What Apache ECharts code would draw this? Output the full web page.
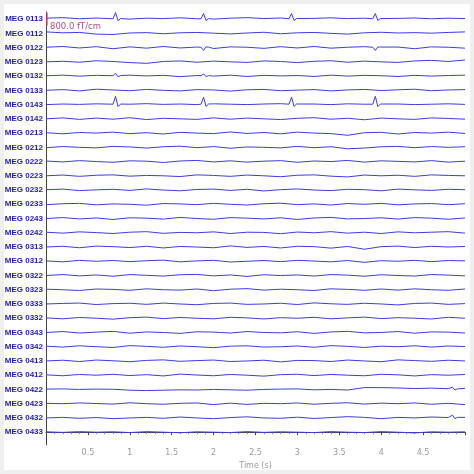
<!DOCTYPE html>
<html>
<head>
<meta charset="utf-8">
<script src="https://cdn.jsdelivr.net/npm/echarts@6/dist/echarts.min.js"></script>
<style>
  body { margin: 0; background: #efefef; }
  #chart { position: absolute; left: 4px; top: 4px; width: 466px; height: 466px; background: #fff; }
</style>
</head>
<body>
<div id="chart"></div>
<script>
const channels = ['MEG 0113', 'MEG 0112', 'MEG 0122', 'MEG 0123', 'MEG 0132', 'MEG 0133', 'MEG 0143', 'MEG 0142',
    'MEG 0213', 'MEG 0212', 'MEG 0222', 'MEG 0223', 'MEG 0232', 'MEG 0233', 'MEG 0243', 'MEG 0242',
    'MEG 0313', 'MEG 0312', 'MEG 0322', 'MEG 0323', 'MEG 0333', 'MEG 0332', 'MEG 0343', 'MEG 0342',
    'MEG 0413', 'MEG 0412', 'MEG 0422', 'MEG 0423', 'MEG 0432', 'MEG 0433'];

// sample times, seconds
const times = [0, 0.2, 0.4, 0.6, 0.8, 1.0, 1.2, 1.4, 1.6, 1.8, 2.0, 2.2, 2.4, 2.6, 2.8, 3.0, 3.2, 3.4, 3.6, 3.8, 4.0, 4.2, 4.4, 4.6, 4.8, 5.0];

// per channel signal, in channel-spacing units
const signals = [
    [0.05, 0.08, 0.02, 0.06, 0.04, 0.0, 0.05, 0.03, 0.07, 0.02, 0.0, 0.05, 0.08, 0.03, 0.06, 0.02, 0.04, 0.07, 0.03, 0.05, 0.0, 0.04, 0.06, 0.02, 0.05, 0.03],
    [0.08, 0.03, 0.05, -0.04, -0.06, 0.02, 0.04, -0.02, 0.03, 0.05, 0.01, -0.03, 0.02, 0.06, -0.02, 0.03, 0.05, 0.0, -0.04, 0.03, 0.06, 0.02, 0.04, 0.01, 0.05, 0.08],
    [0.02, 0.06, -0.02, 0.05, -0.06, 0.04, -0.03, 0.06, -0.02, 0.03, -0.05, 0.04, 0.02, -0.04, 0.05, -0.02, 0.06, -0.03, 0.02, 0.05, -0.04, 0.03, -0.06, 0.04, 0.02, -0.03],
    [0.0, 0.03, -0.02, 0.06, 0.02, -0.04, -0.08, 0.02, 0.05, -0.02, 0.04, 0.0, -0.03, 0.05, 0.02, -0.04, 0.03, 0.06, -0.02, 0.04, 0.0, -0.03, 0.05, 0.08, 0.02, 0.1],
    [0.02, 0.05, 0.0, 0.04, -0.02, 0.05, 0.01, 0.04, -0.03, 0.03, 0.0, 0.05, -0.02, 0.04, 0.01, 0.03, -0.02, 0.05, 0.0, 0.04, 0.02, -0.02, 0.04, 0.0, 0.03, 0.05],
    [0.0, 0.04, -0.03, 0.06, 0.02, -0.02, 0.05, 0.0, -0.03, 0.04, 0.02, -0.04, 0.03, 0.05, -0.02, 0.01, 0.04, -0.03, 0.02, 0.05, -0.01, 0.03, 0.06, -0.02, 0.02, 0.04],
    [0.0, 0.03, 0.01, 0.04, 0.0, 0.02, 0.05, 0.01, 0.03, 0.0, 0.04, 0.02, 0.0, 0.03, 0.05, 0.01, 0.03, 0.0, 0.04, 0.02, 0.01, 0.03, 0.0, 0.02, 0.04, 0.01],
    [0.0, 0.05, -0.03, 0.04, -0.02, 0.06, -0.04, 0.03, 0.0, -0.03, 0.05, -0.02, 0.04, 0.0, -0.04, 0.03, 0.06, -0.02, 0.03, -0.05, 0.04, 0.0, -0.03, 0.05, 0.02, -0.02],
    [0.02, -0.04, 0.03, 0.0, 0.05, -0.03, 0.02, -0.05, 0.04, 0.0, -0.03, 0.06, -0.02, 0.03, -0.04, 0.05, 0.0, -0.03, -0.12, 0.02, 0.04, -0.05, 0.03, 0.0, 0.05, -0.02],
    [-0.02, 0.04, 0.0, -0.03, 0.05, 0.02, -0.04, 0.03, 0.06, -0.02, 0.04, -0.05, 0.02, 0.0, -0.03, 0.05, -0.02, 0.03, -0.08, -0.04, 0.03, 0.05, -0.02, 0.04, 0.0, 0.03],
    [0.03, -0.02, 0.05, 0.0, -0.04, 0.04, 0.02, -0.05, 0.03, 0.06, -0.02, 0.04, -0.03, 0.02, 0.05, -0.04, 0.03, 0.0, 0.06, -0.03, 0.04, 0.01, -0.02, 0.05, -0.03, 0.02],
    [0.0, 0.04, -0.03, 0.03, 0.05, -0.02, 0.02, 0.0, -0.04, 0.05, 0.02, -0.03, 0.04, 0.0, -0.05, 0.03, 0.05, -0.02, -0.06, 0.04, 0.0, 0.03, -0.03, 0.05, 0.02, 0.0],
    [0.02, 0.05, -0.03, 0.01, 0.04, -0.02, 0.06, 0.0, -0.04, 0.03, 0.05, -0.02, 0.04, -0.05, 0.02, 0.06, 0.0, -0.03, 0.04, 0.02, -0.04, 0.05, 0.01, -0.02, 0.04, 0.02],
    [-0.02, 0.03, 0.05, -0.03, 0.02, 0.0, -0.05, 0.04, 0.02, -0.02, 0.05, 0.0, -0.04, 0.03, 0.06, -0.02, 0.02, -0.04, 0.04, 0.0, 0.05, -0.03, 0.02, 0.04, -0.02, 0.03],
    [0.0, 0.05, -0.02, 0.03, -0.05, 0.04, 0.02, -0.03, 0.06, 0.0, -0.04, 0.05, 0.02, -0.02, 0.04, -0.05, 0.03, 0.06, -0.02, 0.0, 0.04, -0.03, 0.05, 0.02, -0.04, 0.03],
    [0.03, -0.02, 0.05, 0.01, -0.04, 0.03, 0.06, -0.03, 0.02, 0.0, 0.05, -0.04, 0.03, 0.02, -0.05, 0.04, 0.0, 0.06, -0.02, 0.03, -0.04, 0.05, 0.0, 0.03, 0.06, -0.02],
    [0.0, 0.04, -0.04, 0.05, 0.02, -0.03, 0.04, -0.05, 0.03, 0.0, -0.04, 0.06, -0.02, 0.03, -0.05, 0.04, 0.02, -0.06, 0.03, -0.12, 0.02, 0.05, -0.03, 0.04, 0.0, 0.03],
    [0.02, -0.03, 0.05, 0.0, 0.04, -0.02, 0.03, 0.06, -0.03, 0.02, 0.05, -0.04, 0.0, 0.04, -0.02, 0.05, 0.01, -0.03, 0.04, -0.06, 0.03, 0.0, 0.05, -0.02, 0.04, 0.02],
    [0.0, 0.05, -0.02, 0.03, -0.04, 0.05, 0.01, -0.03, 0.04, 0.06, -0.02, 0.03, -0.05, 0.04, 0.0, 0.03, -0.03, 0.05, 0.02, -0.04, 0.04, 0.0, -0.03, 0.05, 0.02, -0.02],
    [0.03, 0.0, -0.04, 0.04, 0.02, -0.03, 0.05, 0.0, -0.02, 0.04, -0.05, 0.03, 0.06, -0.02, 0.03, 0.0, -0.04, 0.05, 0.02, -0.03, 0.04, -0.02, 0.05, 0.0, -0.03, 0.04],
    [0.0, 0.03, 0.05, -0.03, 0.02, 0.04, -0.02, 0.05, 0.0, -0.04, 0.03, 0.05, -0.02, 0.0, 0.04, -0.03, 0.06, 0.01, -0.02, 0.04, 0.0, -0.05, 0.03, 0.05, -0.02, 0.02],
    [0.02, -0.03, 0.04, 0.0, -0.05, 0.03, 0.06, -0.02, 0.04, 0.0, -0.03, 0.05, 0.02, -0.04, 0.03, 0.0, 0.05, -0.03, 0.02, 0.06, -0.02, 0.03, 0.0, -0.04, 0.05, 0.0],
    [0.0, 0.05, -0.03, 0.02, 0.06, -0.04, 0.03, 0.0, -0.05, 0.04, 0.02, -0.03, 0.05, 0.0, -0.02, 0.04, -0.05, 0.03, 0.06, -0.02, 0.0, 0.05, -0.04, 0.03, 0.02, -0.03],
    [0.03, -0.02, 0.05, 0.0, -0.04, 0.06, 0.02, -0.03, 0.04, 0.0, -0.05, 0.03, 0.05, -0.02, 0.0, 0.04, -0.03, 0.06, 0.02, -0.04, 0.03, 0.0, 0.05, -0.02, 0.04, 0.01],
    [0.0, 0.04, -0.03, 0.05, 0.01, -0.04, 0.03, 0.06, -0.02, 0.02, 0.05, -0.03, 0.0, 0.04, -0.05, 0.03, 0.02, -0.03, 0.05, 0.0, -0.04, 0.06, 0.02, -0.02, 0.04, 0.0],
    [0.02, -0.03, 0.04, 0.0, 0.05, -0.02, 0.03, -0.04, 0.06, 0.01, -0.03, 0.04, 0.0, -0.05, 0.03, 0.05, -0.02, 0.04, 0.0, -0.03, 0.05, 0.02, -0.04, 0.03, 0.0, 0.04],
    [0.02, 0.03, 0.0, 0.02, 0.01, -0.04, -0.06, -0.04, -0.02, -0.03, 0.0, -0.02, -0.04, 0.0, 0.02, 0.03, -0.02, 0.0, -0.03, 0.1, 0.1, 0.08, 0.05, 0.07, 0.04, 0.06],
    [0.02, 0.0, 0.04, 0.01, -0.02, 0.05, 0.0, -0.03, 0.02, 0.04, -0.05, 0.03, -0.04, 0.02, 0.0, 0.04, -0.03, 0.02, 0.05, -0.02, 0.03, 0.0, 0.04, -0.03, 0.02, -0.05],
    [0.0, 0.03, -0.02, 0.02, -0.04, 0.0, 0.03, -0.02, 0.05, 0.0, -0.04, 0.02, 0.06, 0.0, -0.02, 0.04, -0.03, 0.02, 0.07, 0.03, -0.04, 0.03, 0.0, 0.05, 0.02, 0.03],
    [0.02, -0.01, 0.03, 0.0, 0.02, -0.02, 0.03, 0.0, -0.03, 0.02, 0.0, -0.02, 0.03, -0.01, 0.02, 0.0, -0.02, 0.03, 0.0, -0.02, 0.03, 0.0, -0.04, 0.02, 0.0, 0.02]
];

// sharp transients: [channel index, time s, peak]
const spikes = [
    [0, 0.83, 0.35], [0, 1.88, 0.3], [0, 2.93, 0.3], [0, 3.93, 0.3],
    [6, 0.83, 0.45], [6, 1.88, 0.4], [6, 2.93, 0.4], [6, 3.93, 0.45],
    [2, 1.88, -0.15], [2, 3.93, -0.15], [4, 0.83, 0.15], [4, 1.88, 0.12],
    [28, 4.85, 0.15], [26, 4.85, 0.12]
];

const n = channels.length;

function channelData(i) {
    const pts = times.map((t, k) => [t, signals[i][k]]);
    spikes.filter(s => s[0] === i).forEach(s => {
        pts.push([s[1] - 0.03, 0.02], [s[1], s[2]], [s[1] + 0.03, -s[2] * 0.25], [s[1] + 0.06, 0.03]);
    });
    pts.sort((a, b) => a[0] - b[0]);
    // channel 0 at top
    return pts.map(p => [p[0], (n - 1 - i) + p[1] * 1.3]);
}

const series = channels.map((name, i) => ({
    name: name,
    type: 'line',
    data: channelData(i),
    showSymbol: false,
    silent: true,
    lineStyle: {color: '#3c3cdc', width: 1}
}));

// scale bar at top-left
series.push({
    type: 'line',
    data: [[0.01, n - 1 - 0.45], [0.01, n - 1 + 0.45]],
    showSymbol: false,
    silent: true,
    lineStyle: {color: '#c0306a', width: 1.5}
});

const chart = echarts.init(document.getElementById('chart'));
chart.setOption({
    animation: false,
    grid: {left: 42, right: 5, top: 8, bottom: 25, outerBoundsMode: 'none'},
    xAxis: {
        type: 'value', min: 0, max: 5, interval: 0.5,
        name: 'Time (s)', nameLocation: 'middle', nameGap: 14,
        nameTextStyle: {color: '#999', fontSize: 8, fontFamily: 'DejaVu Sans'},
        axisLine: {lineStyle: {color: '#444'}},
        axisTick: {length: 3, lineStyle: {color: '#444'}},
        minorTick: {show: true, splitNumber: 5, length: 2, lineStyle: {color: '#888'}},
        axisLabel: {color: '#999', fontSize: 8, margin: 4, fontFamily: 'DejaVu Sans', showMinLabel: false, showMaxLabel: false},
        splitLine: {show: false}
    },
    yAxis: {
        type: 'value', min: -0.9, max: n - 0.5,
        axisLine: {show: true, lineStyle: {color: '#444'}},
        axisTick: {show: false},
        splitLine: {show: false},
        axisLabel: {
            customValues: channels.map((c, i) => i),
            formatter: v => channels[n - 1 - Math.round(v)] || '',
            color: '#1c1ca8', fontSize: 8, fontWeight: 'bold', margin: 3, fontFamily: 'Liberation Sans'
        }
    },
    graphic: [{
        type: 'text', left: 46, top: 18,
        style: {text: '800.0 fT/cm', fill: '#b0508a', fontSize: 8.5, fontFamily: 'DejaVu Sans'}
    }],
    series: series
});
</script>
</body>
</html>
